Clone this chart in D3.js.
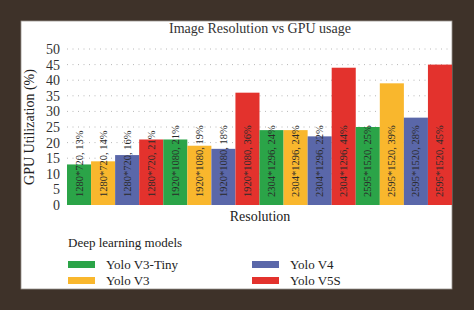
<!DOCTYPE html>
<html>
<head>
<meta charset="utf-8">
<script src="https://cdn.jsdelivr.net/npm/d3@7"></script>
<style>
  body { margin: 0; background: #3e3229; }
  svg { display: block; font-family: "Liberation Serif", "Times New Roman", serif; }
  svg text { font-family: "Liberation Serif", "Times New Roman", serif; }
</style>
</head>
<body>
<div id="chart"></div>
<script>
var resolutions = ["1280*720", "1920*1080", "2304*1296", "2595*1520"];
var models = ["Yolo V3-Tiny", "Yolo V3", "Yolo V4", "Yolo V5S"];
var colors = ["#2ba448", "#f9b72d", "#5a67a9", "#e3322d"];
// GPU utilization (%) per model, one value per resolution
var v3tiny = [13, 21, 24, 25];
var v3 = [14, 19, 24, 39];
var v4 = [16, 18, 22, 28];
var v5s = [21, 36, 44, 45];
var yTicks = [0, 5, 10, 15, 20, 25, 30, 35, 40, 45, 50];

var series = [v3tiny, v3, v4, v5s];
var width = 474, height = 310;
var serif = "'Liberation Serif', 'Times New Roman', serif";

var svg = d3.select("#chart").append("svg")
  .attr("width", width)
  .attr("height", height);

// white panel
svg.append("rect")
  .attr("x", 21).attr("y", 21)
  .attr("width", 431).attr("height", 268)
  .attr("fill", "#ffffff")
  .attr("stroke", "#9a948e")
  .attr("stroke-width", 0.8);

var x0 = d3.scaleBand().domain(resolutions).range([67, 452]).padding(0);
var x1 = d3.scaleBand().domain(d3.range(models.length)).range([0, x0.bandwidth()]).padding(0);
var y = d3.scaleLinear().domain([0, 50]).range([205, 49]);

// dotted grid
svg.append("g").selectAll("line")
  .data(yTicks.filter(d => d > 0))
  .enter().append("line")
  .attr("x1", 67).attr("x2", 452)
  .attr("y1", d => y(d)).attr("y2", d => y(d))
  .attr("stroke", "#b8b8b8")
  .attr("stroke-width", 1)
  .attr("stroke-dasharray", "1,4.5");

// y axis labels
var yAxis = svg.append("g")
  .attr("transform", "translate(67,0)")
  .call(d3.axisLeft(y).tickValues(yTicks).tickSize(0).tickPadding(7));
yAxis.attr("font-family", serif);
yAxis.select(".domain").remove();
yAxis.selectAll("text")
  .attr("font-family", serif)
  .style("font-size", "14px")
  .attr("fill", "#333");

// bars
var rows = [];
resolutions.forEach(function (r, i) {
  series.forEach(function (s, j) {
    rows.push({res: r, m: j, v: s[i]});
  });
});

var bars = svg.append("g");
bars.selectAll("rect")
  .data(rows)
  .enter().append("rect")
  .attr("x", d => x0(d.res) + x1(d.m))
  .attr("y", d => y(d.v))
  .attr("width", x1.bandwidth())
  .attr("height", d => y(0) - y(d.v))
  .attr("fill", d => colors[d.m]);

// rotated value labels
bars.selectAll("text")
  .data(rows)
  .enter().append("text")
  .attr("transform", function (d) {
    var cx = x0(d.res) + x1(d.m) + x1.bandwidth() / 2 + 3.5;
    return "translate(" + cx + ",197) rotate(-90)";
  })
  .attr("font-family", serif)
  .attr("font-size", "10.5px")
  .attr("fill", "#2a2a2a")
  .text(d => d.res + ", " + d.v + "%");

// title
svg.append("text")
  .attr("x", 260).attr("y", 33)
  .attr("text-anchor", "middle")
  .attr("font-family", serif)
  .attr("font-size", "14px")
  .attr("fill", "#333")
  .text("Image Resolution vs GPU usage");

// axis titles
svg.append("text")
  .attr("x", 260).attr("y", 221)
  .attr("text-anchor", "middle")
  .attr("font-family", serif)
  .attr("font-size", "14px")
  .attr("fill", "#222")
  .text("Resolution");

svg.append("text")
  .attr("transform", "translate(34,127) rotate(-90)")
  .attr("text-anchor", "middle")
  .attr("font-family", serif)
  .attr("font-size", "14px")
  .attr("fill", "#222")
  .text("GPU Utilization (%)");

// legend
svg.append("text")
  .attr("x", 68).attr("y", 247)
  .attr("font-family", serif)
  .attr("font-size", "13px")
  .attr("fill", "#222")
  .text("Deep learning models");

var legend = svg.append("g").selectAll("g")
  .data(models)
  .enter().append("g")
  .attr("transform", function (d, i) {
    var col = i < 2 ? 0 : 1;
    var row = i % 2;
    return "translate(" + (68 + col * 184) + "," + (264 + row * 16) + ")";
  });
legend.append("rect")
  .attr("x", 0).attr("y", -3)
  .attr("width", 27).attr("height", 7)
  .attr("fill", (d, i) => colors[i]);
legend.append("text")
  .attr("x", 38).attr("y", 4.5)
  .attr("font-family", serif)
  .attr("font-size", "13px")
  .attr("fill", "#222")
  .text(d => d);
</script>
</body>
</html>
